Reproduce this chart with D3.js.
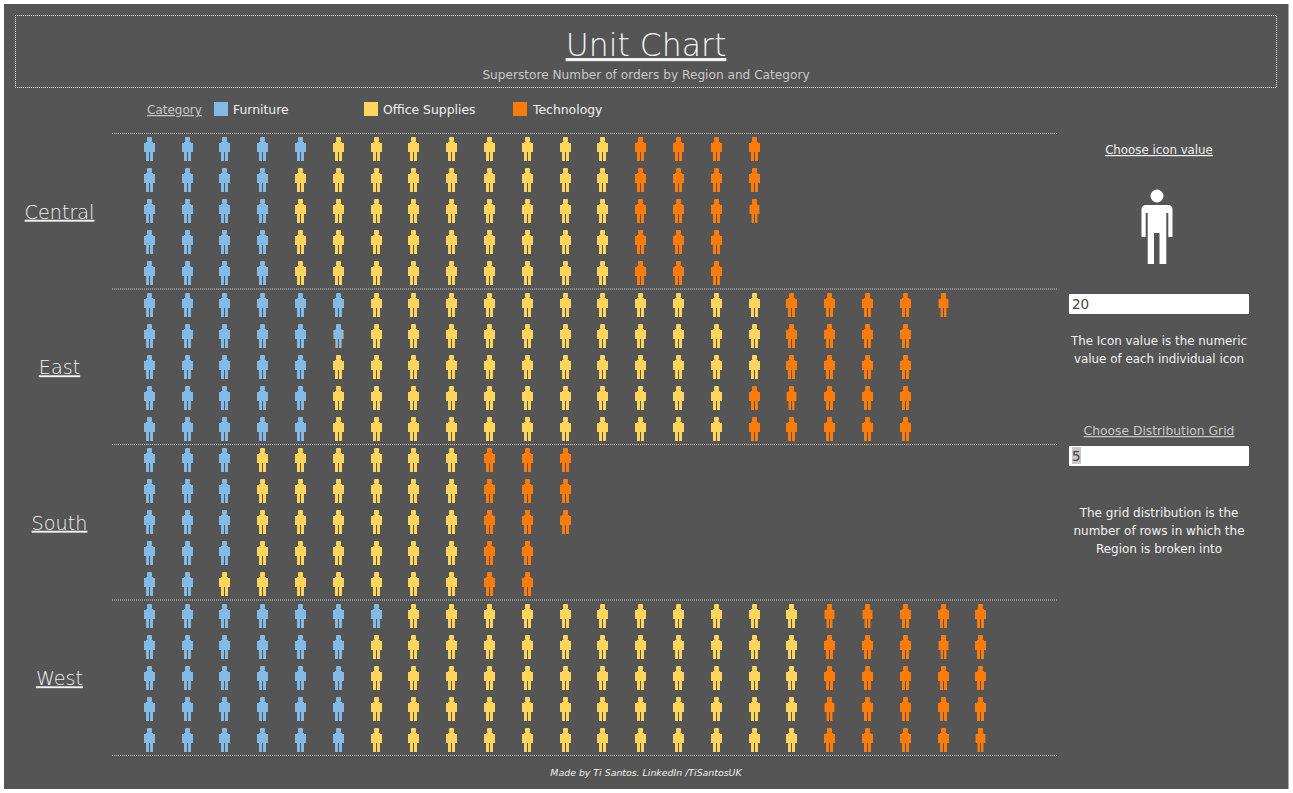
<!DOCTYPE html>
<html>
<head>
<meta charset="utf-8">
<script src="https://cdnjs.cloudflare.com/ajax/libs/d3/7.8.5/d3.min.js"></script>
<style>
html, body { margin: 0; padding: 0; background: #fff; }
text { font-family: "DejaVu Sans", sans-serif; fill: #f2f2f2; }
</style>
</head>
<body>
<svg id="chart" width="1293" height="793"></svg>
<script>
const regions = ["Central", "East", "South", "West"];
const categories = ["Furniture", "Office Supplies", "Technology"];
const categoryColors = ["#83bbe6", "#ffd55c", "#ff7b0a"];

// number of icons per region
const furnitureUnits = [21, 27, 14, 31];
const officeUnits = [44, 56, 31, 59];
const technologyUnits = [18, 23, 13, 25];

// icons that look narrower in the picture: region, column, row
const thinRegions = ["Central", "East", "East", "East", "West", "West", "West", "West", "West"];
const thinCols = [16, 5, 17, 21, 18, 19, 21, 18, 22];
const thinRows = [2, 1, 3, 0, 0, 0, 1, 3, 4];

const iconValue = "20";
const gridRows = "5";

const iconText = ["The Icon value is the numeric", "value of each individual icon"];
const gridText = ["The grid distribution is the", "number of rows in which the", "Region is broken into"];

const headShape = "M-1.5,-12H1.5Q2.5,-12 2.5,-11V-8Q2.5,-7 1.5,-7H-1.5Q-2.5,-7 -2.5,-8V-11Q-2.5,-12 -1.5,-12Z";
const smallIcon = headShape + "M-3.5,-7H3.5V-6H5.5V3H3.5V12H0.5V3H-0.5V12H-3.5V3H-5.5V-6H-3.5Z";
const thinIcon = headShape + "M-2.5,-7H2.5V-6H4.5V3H2.5V12H0.5V3H-0.5V12H-2.5V3H-4.5V-6H-2.5Z";
const bigIcon = "M-6.5,-31a6.5,6.5 0 1,1 13,0a6.5,6.5 0 1,1 -13,0Z" +
    "M-11,-22H11Q15.5,-22 15.5,-17.5V10H11.3V-14H9.3V37H2.5V6H-3V37H-9.3V-14H-11.3V10H-15.5V-17.5Q-15.5,-22 -11,-22Z";

const svg = d3.select("#chart");

svg.append("rect").attr("x", 4).attr("y", 4).attr("width", 1284.5).attr("height", 785).attr("fill", "#555555");

// title box
svg.append("rect").attr("x", 15.5).attr("y", 15.5).attr("width", 1261).attr("height", 72)
    .attr("fill", "none").attr("stroke", "#f0f0f0").attr("stroke-dasharray", "1 1").attr("stroke-dashoffset", 0.5);
svg.append("text").attr("x", 646).attr("y", 56).attr("text-anchor", "middle")
    .style("font-size", "31.5px").style("font-weight", 200).style("text-decoration", "underline")
    .text("Unit Chart");
svg.append("text").attr("x", 646).attr("y", 79).attr("text-anchor", "middle")
    .style("font-size", "12.15px").style("fill", "#c8c8c8")
    .text("Superstore Number of orders by Region and Category");

// scales
const colX = d3.scaleLinear().domain([0, 22]).range([149.3, 980.9]);
const regionY = d3.scaleBand().domain(regions).range([133.5, 755.5]);
const rowY = d3.scaleBand().domain(d3.range(+gridRows)).range([0, regionY.bandwidth()]);
const color = d3.scaleOrdinal().domain(categories).range(categoryColors);

// legend
svg.append("text").attr("x", 147).attr("y", 114)
    .style("font-size", "12px").style("fill", "#c8c8c8").style("text-decoration", "underline")
    .text("Category");
const legendX = d3.scaleOrdinal().domain(categories).range([214, 364, 513]);
const legend = svg.selectAll(".legend").data(categories).enter().append("g")
    .attr("class", "legend")
    .attr("transform", d => "translate(" + legendX(d) + ",102)");
legend.append("rect").attr("width", 14).attr("height", 14).attr("fill", d => color(d));
legend.append("text").attr("x", (d, i) => i === 2 ? 20 : 19).attr("y", 12).style("font-size", "12.4px").text(d => d);

// dotted separators
const separators = regions.map(d => regionY(d)).concat([regionY.range()[1]]);
svg.selectAll(".sep").data(separators).enter().append("line")
    .attr("class", "sep")
    .attr("x1", 112).attr("x2", 1057)
    .attr("y1", d => d).attr("y2", d => d)
    .attr("stroke", "#d0d0d0").attr("stroke-dasharray", "1 1");

// region labels
svg.selectAll(".region").data(regions).enter().append("text")
    .attr("class", "region")
    .attr("x", 59.5)
    .attr("y", d => regionY(d) + regionY.bandwidth() / 2 + 7.5)
    .attr("text-anchor", "middle")
    .style("font-size", "19.2px").style("font-weight", 200).style("text-decoration", "underline")
    .text(d => d);

// units, filled top to bottom, column by column
let units = [];
regions.forEach(function (region, r) {
    let counts = [furnitureUnits[r], officeUnits[r], technologyUnits[r]];
    let n = 0;
    categories.forEach(function (category, c) {
        for (let i = 0; i < counts[c]; i++) {
            let col = Math.floor(n / +gridRows);
            let row = n % +gridRows;
            let thin = thinRegions.some((t, j) => t === region && thinCols[j] === col && thinRows[j] === row);
            units.push({ region: region, category: category, col: col, row: row, thin: thin });
            n++;
        }
    });
});

function unitPos(d) {
    return "translate(" + (Math.floor(colX(d.col)) + 0.5) + "," +
        Math.round(regionY(d.region) + rowY(d.row) + rowY.bandwidth() / 2) + ")";
}

// thin icons get a faded full size icon behind them
svg.selectAll(".ghost").data(units.filter(d => d.thin)).enter().append("path")
    .attr("class", "ghost")
    .attr("d", smallIcon)
    .attr("fill", d => d.category === categories[0] ? color(categories[1]) : color(d.category))
    .attr("opacity", 0.45)
    .attr("transform", unitPos);

svg.selectAll(".unit").data(units).enter().append("path")
    .attr("class", "unit")
    .attr("d", d => d.thin ? thinIcon : smallIcon)
    .attr("fill", d => color(d.category))
    .attr("transform", unitPos);

// right hand panel
svg.append("text").attr("x", 1159).attr("y", 154).attr("text-anchor", "middle")
    .style("font-size", "11.8px").style("text-decoration", "underline").text("Choose icon value");
svg.append("path").attr("d", bigIcon).attr("fill", "#fff").attr("transform", "translate(1157,227)");

function inputBox(y, value) {
    svg.append("rect").attr("x", 1069).attr("y", y).attr("width", 180).attr("height", 20).attr("fill", "#fff");
    if (value === gridRows)
        svg.append("rect").attr("x", 1072).attr("y", y + 1).attr("width", 9).attr("height", 17).attr("fill", "#c8c8c8");
    svg.append("text").attr("x", 1072).attr("y", y + 15)
        .style("font-size", "13.5px").style("fill", "#444").text(value);
}
inputBox(294, iconValue);
inputBox(446, gridRows);

svg.selectAll(".iconText").data(iconText).enter().append("text")
    .attr("class", "iconText")
    .attr("x", 1159).attr("y", (d, i) => 345 + i * 18).attr("text-anchor", "middle")
    .style("font-size", "11.9px").text(d => d);

svg.append("text").attr("x", 1159).attr("y", 435).attr("text-anchor", "middle")
    .style("font-size", "12.3px").style("fill", "#c8c8c8").style("text-decoration", "underline")
    .text("Choose Distribution Grid");

svg.selectAll(".gridText").data(gridText).enter().append("text")
    .attr("class", "gridText")
    .attr("x", 1159).attr("y", (d, i) => 517 + i * 18).attr("text-anchor", "middle")
    .style("font-size", "12px").text(d => d);

svg.append("text").attr("x", 646).attr("y", 776).attr("text-anchor", "middle")
    .style("font-size", "9.4px").style("font-style", "italic")
    .text("Made by Ti Santos. LinkedIn /TiSantosUK");
</script>
</body>
</html>
